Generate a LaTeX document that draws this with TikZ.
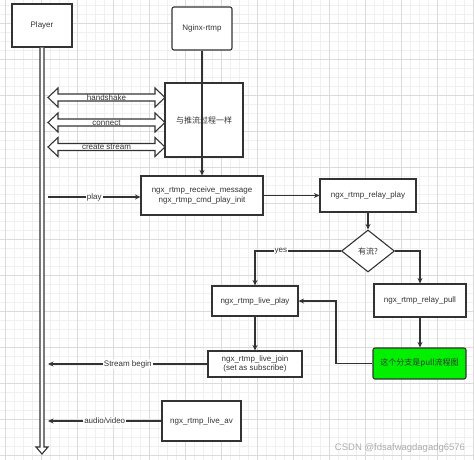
\documentclass[tikz,border=0pt]{standalone}
\usepackage{fontspec}
\setmainfont{Liberation Sans}
\newfontfamily\cjk{Noto Sans CJK SC}
\usetikzlibrary{arrows.meta,shapes.geometric}
\definecolor{linegray}{HTML}{333333}
\definecolor{pullgreen}{HTML}{00F000}

\begin{document}
\begin{tikzpicture}[
        x=1pt, y=-1pt,
        every node/.style={font=\fontsize{8}{9.5}\selectfont, text=linegray},
        box/.style={draw=linegray, line width=1.1pt, fill=white, align=center, inner sep=1pt},
        flow/.style={draw=linegray, line width=1.1pt, -{Stealth[length=5.5pt,width=5pt]}},
        hollow/.style={draw=linegray, line width=1.1pt, fill=white, line join=miter},
        lbl/.style={fill=white, inner sep=1pt},
        minor/.style={gray!12, line width=0.4pt},
        major/.style={gray!28, line width=0.5pt},
    ]
    \useasboundingbox (0,0) rectangle (474,460);

    % background grid
    \foreach \g in {5,14,...,473} \draw[minor] (\g,0) -- (\g,460);
    \foreach \g in {5,14,...,459} \draw[minor] (0,\g) -- (474,\g);
    \foreach \g in {5,41,...,473} \draw[major] (\g,0) -- (\g,460);
    \foreach \g in {23,59,...,459} \draw[major] (0,\g) -- (474,\g);

    \node[box, minimum width=60pt, minimum height=43pt] (player) at (42,25.5) {Player};
    \node[box, rounded corners=2pt, minimum width=60pt, minimum height=43pt] (nginx) at (202,28.5) {Nginx-rtmp};
    \node[box, minimum width=78pt, minimum height=74pt] (same) at (204,120) {\cjk 与推流过程一样};
    \node[box, minimum width=122pt, minimum height=39pt] (recv) at (202,195.5)
        {ngx\_rtmp\_receive\_message\\ngx\_rtmp\_cmd\_play\_init};
    \node[box, minimum width=96pt, minimum height=33pt] (relay) at (368,195.5) {ngx\_rtmp\_relay\_play};
    \node[box, diamond, inner sep=0pt, minimum width=53pt, minimum height=42pt] (has) at (368,251) {\cjk 有流?};
    \node[box, minimum width=86pt, minimum height=30pt] (liveplay) at (255,301) {ngx\_rtmp\_live\_play};
    \node[box, minimum width=92pt, minimum height=33pt] (pull) at (420,300.5) {ngx\_rtmp\_relay\_pull};
    \node[box, minimum width=94pt, minimum height=26pt] (join) at (255,364)
        {ngx\_rtmp\_live\_join\\(set as subscribe)};
    \node[box, rounded corners=2pt, fill=pullgreen, minimum width=93pt, minimum height=31pt] (branch) at (419.5,363.5)
        {\cjk 这个分支是pull流程图};
    \node[box, minimum width=79pt, minimum height=40pt] (av) at (201.5,421) {ngx\_rtmp\_live\_av};

    % player lifeline
    \draw[hollow] ([xshift=-2pt]player.south) -- (40,447) -- (36,447) -- (42,454)
        -- (48,447) -- (44,447) -- ([xshift=2pt]player.south);
    \coordinate (life) at (48,0);

    \foreach \y/\txt in {97.5/handshake,122.5/connect,147/create stream}{
        \draw[hollow] (life |- 0,\y) -- ++(10,-9.5) -- ++(0,6) -- ++(97,0) -- ++(0,-6)
            -- ++(10,9.5) -- ++(-10,9.5) -- ++(0,-6) -- ++(-97,0) -- ++(0,6) -- cycle;
        \node at (106.5,\y) {\txt};
    }

    \draw[flow] (nginx) -- (recv);
    \coordinate (lplay) at (48,197);
    \draw[flow] (lplay) -- (lplay -| recv.west) node[lbl, midway] {play};
    \draw[flow] (recv.east) -- (recv.east -| relay.west);
    \draw[flow] (relay) -- (has);
    \draw[flow] (has.west) -| (liveplay.north) node[lbl, pos=0.35] {yes};
    \draw[flow] (has.east) -| (pull.north);
    \draw[flow] (liveplay) -- (join);
    \draw[flow] (pull.south) -- (pull.south |- branch.north);
    \coordinate (back) at (336,301);
    \draw[flow] (branch.west) -| (back) -- (liveplay.east);
    \draw[flow] (join.west) -- (join.west -| life) node[lbl, midway] {Stream begin};
    \draw[flow] (av.west) -- (av.west -| life) node[lbl, midway] {audio/video};

    \node[font=\fontsize{9.5}{11}\selectfont, text=gray!65] (mark) at (400,448) {CSDN @fdsafwagdagadg6576};
\end{tikzpicture}
\end{document}
